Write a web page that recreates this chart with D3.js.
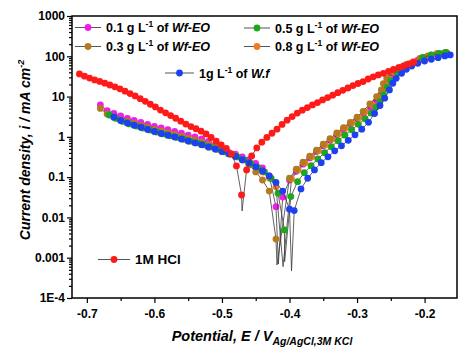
<!DOCTYPE html>
<html>
<head>
<meta charset="utf-8">
<title>Tafel plot</title>
<script src="https://cdn.jsdelivr.net/npm/d3@7"></script>
<style>
  body { margin: 0; background: #fff; }
  svg { display: block; font-family: Arial, "Liberation Sans", sans-serif; }
</style>
</head>
<body>
<script>
// ---- data: potential (V vs Ag/AgCl) and current density (mA cm-2) ----

// 1M HCl (blank)
const hclPotential = [-0.711, -0.7035, -0.696, -0.6885, -0.681, -0.6735, -0.666, -0.6585, -0.651, -0.6435,
  -0.636, -0.6285, -0.621, -0.6135, -0.606, -0.5985, -0.591, -0.5835, -0.576, -0.5685,
  -0.561, -0.5535, -0.546, -0.5385, -0.531, -0.5235, -0.516, -0.5085, -0.501, -0.4935,
  -0.486, -0.4785, -0.471, -0.4635, -0.456, -0.4485, -0.441, -0.4335, -0.426, -0.4185,
  -0.411, -0.4035, -0.396, -0.3885, -0.381, -0.3735, -0.366, -0.3585, -0.351, -0.3435,
  -0.336, -0.3285, -0.321, -0.3135, -0.306, -0.2985, -0.291, -0.2835, -0.276, -0.2685,
  -0.261, -0.2535, -0.246, -0.2385, -0.231, -0.2235, -0.216];
const hclCurrent = [36.4, 32.1, 28.8, 25.9, 23.8, 21.5, 19.4, 17.5, 15.6, 13.6,
  11.9, 10.4, 8.87, 7.64, 6.44, 5.52, 4.62, 3.94, 3.38, 2.90,
  2.45, 2.08, 1.80, 1.59, 1.38, 1.18, 0.966, 0.782, 0.629, 0.515,
  0.376, 0.190, 0.036, 0.151, 0.336, 0.531, 0.739, 0.966, 1.23, 1.55,
  2.04, 2.59, 3.19, 3.90, 4.60, 5.34, 6.19, 7.10, 8.24, 9.45,
  10.8, 12.5, 14.3, 16.3, 18.8, 21.1, 23.5, 27.3, 31.0, 34.4,
  37.8, 42.0, 47.0, 52.1, 57.4, 64.4, 71.4];
const hclDip = [-0.4702, 0.0145];

// 0.1 g/L Wf-EO
const c01Potential = [-0.68, -0.67, -0.66, -0.65, -0.64, -0.63, -0.62, -0.61, -0.60, -0.59,
  -0.58, -0.57, -0.56, -0.55, -0.54, -0.53, -0.52, -0.51, -0.50, -0.49,
  -0.48, -0.47, -0.46, -0.45, -0.44, -0.43, -0.42,
  -0.41, -0.40, -0.39, -0.38, -0.37, -0.36, -0.35, -0.34, -0.33, -0.32,
  -0.31, -0.30, -0.29, -0.28, -0.272, -0.265, -0.259, -0.255, -0.250, -0.240,
  -0.230, -0.220, -0.210, -0.200, -0.190, -0.180, -0.170];
const c01Current = [6.2, 4.5, 3.8, 3.3, 2.86, 2.55, 2.28, 2.03, 1.83, 1.66,
  1.50, 1.36, 1.23, 1.11, 1.0, 0.89, 0.77, 0.63, 0.50, 0.41,
  0.37, 0.32, 0.27, 0.22, 0.17, 0.107, 0.0185,
  0.032, 0.085, 0.14, 0.21, 0.30, 0.43, 0.60, 0.82, 1.12, 1.5,
  2.05, 2.8, 3.8, 5.3, 7.5, 11, 17, 24, 31, 44,
  55, 66, 80, 94, 106, 116, 122];
const c01Dip = [-0.4165, 0.0007];

// 0.3 g/L Wf-EO
const c03Potential = [-0.68, -0.67, -0.66, -0.65, -0.64, -0.63, -0.62, -0.61, -0.60, -0.59,
  -0.58, -0.57, -0.56, -0.55, -0.54, -0.53, -0.52, -0.51, -0.50, -0.49,
  -0.48, -0.47, -0.46, -0.45, -0.44, -0.43, -0.42,
  -0.400, -0.390, -0.380, -0.370, -0.360, -0.350, -0.340, -0.330, -0.320, -0.310,
  -0.300, -0.291, -0.281, -0.271, -0.264, -0.261, -0.256, -0.247, -0.237, -0.227,
  -0.217, -0.207, -0.195, -0.182, -0.170];
const c03Current = [5.07, 3.70, 3.03, 2.62, 2.41, 2.15, 1.92, 1.71, 1.54, 1.40,
  1.26, 1.15, 1.03, 0.93, 0.84, 0.75, 0.65, 0.55, 0.46, 0.39,
  0.34, 0.27, 0.20, 0.135, 0.085, 0.045, 0.0029,
  0.094, 0.157, 0.234, 0.33, 0.47, 0.66, 0.90, 1.25, 1.70, 2.3,
  3.1, 4.3, 6.6, 10, 14.6, 21, 28.4, 41.5, 53, 63,
  73, 89, 102, 116, 123];
const c03Dip = [-0.4185, 0.00066];

// 0.5 g/L Wf-EO
const c05Potential = [-0.667, -0.657, -0.647, -0.637, -0.627, -0.617, -0.607, -0.597, -0.587, -0.577,
  -0.567, -0.557, -0.547, -0.537, -0.527, -0.517, -0.507, -0.497, -0.487, -0.477,
  -0.467, -0.457, -0.447, -0.437, -0.427, -0.417, -0.4075,
  -0.398, -0.388, -0.378, -0.368, -0.358, -0.348, -0.338, -0.328, -0.318, -0.308,
  -0.298, -0.288, -0.279, -0.272, -0.266, -0.2605, -0.255, -0.250, -0.240, -0.229,
  -0.216, -0.203, -0.190, -0.178, -0.168];
const c05Current = [3.49, 2.86, 2.41, 2.09, 1.86, 1.66, 1.48, 1.32, 1.18, 1.06,
  0.966, 0.871, 0.782, 0.706, 0.629, 0.561, 0.492, 0.427, 0.370, 0.317,
  0.267, 0.219, 0.174, 0.135, 0.093, 0.040, 0.0049,
  0.033, 0.077, 0.129, 0.193, 0.283, 0.406, 0.57, 0.80, 1.10, 1.5,
  2.05, 2.8, 3.9, 5.4, 7.5, 11, 17, 25, 38, 50,
  68, 94, 108, 118, 124];
const c05Dip = [-0.4072, 0.0008];

// 0.8 g/L Wf-EO
const c08Potential = [-0.66, -0.65, -0.64, -0.63, -0.62, -0.61, -0.60, -0.59, -0.58, -0.57,
  -0.56, -0.55, -0.54, -0.53, -0.52, -0.51, -0.50, -0.49, -0.48, -0.47,
  -0.46, -0.45, -0.44, -0.43, -0.42,
  -0.397, -0.387, -0.377, -0.367, -0.357, -0.347, -0.337, -0.327, -0.317, -0.307,
  -0.297, -0.288, -0.278, -0.268, -0.262, -0.258, -0.253, -0.244, -0.234, -0.224,
  -0.214, -0.204, -0.192, -0.180, -0.167];
const c08Current = [3.15, 2.58, 2.22, 1.96, 1.74, 1.54, 1.37, 1.22, 1.10, 1.0,
  0.89, 0.80, 0.71, 0.64, 0.56, 0.50, 0.43, 0.38, 0.32, 0.27,
  0.22, 0.175, 0.135, 0.095, 0.058,
  0.09, 0.15, 0.225, 0.32, 0.45, 0.63, 0.87, 1.2, 1.65, 2.25,
  3.0, 4.2, 6.4, 9.8, 14.5, 21, 28, 41, 52, 62,
  72, 87, 101, 114, 122];
const c08Dip = [-0.4095, 0.0006];

// 1 g/L W.f
const wfPotential = [-0.66, -0.65, -0.64, -0.63, -0.62, -0.61, -0.60, -0.59, -0.58, -0.57,
  -0.56, -0.55, -0.54, -0.53, -0.52, -0.51, -0.50, -0.49, -0.48, -0.47,
  -0.46, -0.45, -0.44, -0.43, -0.42, -0.41, -0.40,
  -0.393, -0.383, -0.373, -0.363, -0.353, -0.343, -0.333, -0.323, -0.313, -0.303,
  -0.293, -0.283, -0.274, -0.266, -0.259, -0.252, -0.247, -0.242, -0.234, -0.227,
  -0.219, -0.210, -0.200, -0.190, -0.180, -0.170, -0.162];
const wfCurrent = [3.12, 2.55, 2.21, 1.95, 1.73, 1.53, 1.36, 1.21, 1.10, 0.995,
  0.89, 0.79, 0.71, 0.64, 0.56, 0.50, 0.43, 0.38, 0.33, 0.27,
  0.225, 0.18, 0.143, 0.107, 0.074, 0.045, 0.016,
  0.0148, 0.051, 0.094, 0.151, 0.229, 0.32, 0.45, 0.60, 0.82, 1.12,
  1.55, 2.3, 3.8, 6.0, 9.1, 14.6, 21.4, 28.4, 37.9, 47.5,
  57.4, 67, 76.4, 84.3, 92.3, 102, 108];
const wfDip = [-0.397, 0.00047];

// axis ticks
const xTicks = [-0.7, -0.6, -0.5, -0.4, -0.3, -0.2];
const xTickLabels = ["-0.7", "-0.6", "-0.5", "-0.4", "-0.3", "-0.2"];
const xMinorTicks = [-0.65, -0.55, -0.45, -0.35, -0.25];
const yTicks = [1e-4, 1e-3, 1e-2, 0.1, 1, 10, 100, 1000];
const yTickLabels = ["1E-4", "0.001", "0.01", "0.1", "1", "10", "100", "1000"];

// ---- layout ----
const width = 474, height = 363;
const margin = { top: 16, right: 17, bottom: 65, left: 72 };
const w = width - margin.left - margin.right;
const h = height - margin.top - margin.bottom;

const xScale = d3.scaleLinear().domain([-0.722, -0.152]).range([0, w]);
const yScale = d3.scaleLog().domain([1e-4, 1000]).range([h, 0]);

const svg = d3.select("body").append("svg")
  .attr("width", width)
  .attr("height", height);

svg.append("rect").attr("width", width).attr("height", height).attr("fill", "#fff");

const g = svg.append("g")
  .attr("transform", "translate(" + margin.left + "," + margin.top + ")");

// series, drawn in this order
const series = [
  { pot: c01Potential, cur: c01Current, dip: c01Dip, color: "#F01EE6" },
  { pot: c08Potential, cur: c08Current, dip: c08Dip, color: "#F07A2C" },
  { pot: c03Potential, cur: c03Current, dip: c03Dip, color: "#B47A1E" },
  { pot: c05Potential, cur: c05Current, dip: c05Dip, color: "#1CA81C" },
  { pot: wfPotential, cur: wfCurrent, dip: wfDip, color: "#1E40F0" },
  { pot: hclPotential, cur: hclCurrent, dip: hclDip, color: "#FF1A1A" }
];

const line = d3.line()
  .x(function (d) { return xScale(d[0]); })
  .y(function (d) { return yScale(d[1]); });

series.forEach(function (s) {
  const pts = s.pot.map(function (E, k) { return [E, s.cur[k]]; });
  const linePts = pts.concat([s.dip]).sort(function (a, b) { return a[0] - b[0]; });
  const sg = g.append("g");
  sg.append("path")
    .attr("d", line(linePts))
    .attr("fill", "none")
    .attr("stroke", "#3a3a3a")
    .attr("stroke-width", 0.8);
  sg.selectAll("circle")
    .data(pts)
    .enter()
    .append("circle")
    .attr("cx", function (d) { return xScale(d[0]); })
    .attr("cy", function (d) { return yScale(d[1]); })
    .attr("r", 3.4)
    .attr("fill", s.color);
});

// ---- axes ----
const xAxis = d3.axisBottom(xScale)
  .tickValues(xTicks)
  .tickFormat(function (d, i) { return xTickLabels[i]; })
  .tickSize(5).tickPadding(6);
const xMinor = d3.axisBottom(xScale).tickValues(xMinorTicks).tickFormat("").tickSize(3);
const yAxis = d3.axisLeft(yScale)
  .tickValues(yTicks)
  .tickFormat(function (d, i) { return yTickLabels[i]; })
  .tickSize(5).tickPadding(2);
const yMinorVals = [];
yTicks.slice(0, -1).forEach(function (t) {
  for (let m = 2; m <= 9; m++) yMinorVals.push(t * m);
});
const yMinor = d3.axisLeft(yScale).tickValues(yMinorVals).tickFormat("").tickSize(3);

[xAxis, xMinor].forEach(function (a) {
  g.append("g").attr("class", "axis").attr("transform", "translate(0," + h + ")").call(a);
});
[yAxis, yMinor].forEach(function (a) {
  g.append("g").attr("class", "axis").call(a);
});

g.selectAll(".axis .domain").remove();
g.selectAll(".axis line").attr("stroke", "#000").attr("stroke-width", 1.2);
g.selectAll(".axis text")
  .attr("fill", "#000")
  .attr("font-size", 12)
  .attr("font-weight", "bold")
  .attr("font-family", "Arial, 'Liberation Sans', sans-serif");

// frame
g.append("rect")
  .attr("width", w).attr("height", h)
  .attr("fill", "none").attr("stroke", "#000").attr("stroke-width", 1.5);

// ---- axis titles ----
const yTitle = svg.append("text")
  .attr("transform", "translate(30,150) rotate(-90)")
  .attr("text-anchor", "middle")
  .attr("font-size", 14).attr("font-weight", "bold").attr("font-style", "italic");
yTitle.append("tspan").text("Current density, i / mA cm");
yTitle.append("tspan").attr("font-size", 9).attr("dy", -6).text("-2");

const xTitle = svg.append("text")
  .attr("x", 262).attr("y", 340.5)
  .attr("text-anchor", "middle")
  .attr("font-size", 14.5).attr("font-weight", "bold").attr("font-style", "italic");
xTitle.append("tspan").text("Potential, E / V");
xTitle.append("tspan").attr("font-size", 10.5).attr("dy", 4.5).text("Ag/AgCl,3M KCl");

// ---- legend ----
const legend = svg.append("g");
function legendItem(x1, x2, y, color, size, parts) {
  legend.append("line")
    .attr("x1", x1).attr("x2", x2).attr("y1", y).attr("y2", y)
    .attr("stroke", "#555").attr("stroke-width", 1);
  legend.append("circle")
    .attr("cx", (x1 + x2) / 2).attr("cy", y).attr("r", 3.4).attr("fill", color);
  const t = legend.append("text")
    .attr("x", x2 + 5).attr("y", y + 4.5)
    .attr("font-size", size).attr("font-weight", "bold");
  t.append("tspan").text(parts[0]);
  if (parts.length > 1) {
    t.append("tspan").attr("font-size", 8.5).attr("dy", -5).text(parts[1]);
    t.append("tspan").attr("dy", 5).text(parts[2]);
    t.append("tspan").attr("font-style", "italic").text(parts[3]);
  }
}
legendItem(75, 101, 27.5, "#F01EE6", 12.5, ["0.1 g L", "-1", " of ", "Wf-EO"]);
legendItem(75, 101, 46.5, "#B47A1E", 12.5, ["0.3 g L", "-1", " of ", "Wf-EO"]);
legendItem(244, 270, 28, "#1CA81C", 12.5, ["0.5 g L", "-1", " of ", "Wf-EO"]);
legendItem(244, 270, 46.5, "#F07A2C", 12.5, ["0.8 g L", "-1", " of ", "Wf-EO"]);
legendItem(165, 194, 73, "#1E40F0", 12.5, ["1g L", "-1", " of ", "W.f"]);
legendItem(98, 130, 259.5, "#FF1A1A", 13.5, ["1M HCl"]);
</script>
</body>
</html>
